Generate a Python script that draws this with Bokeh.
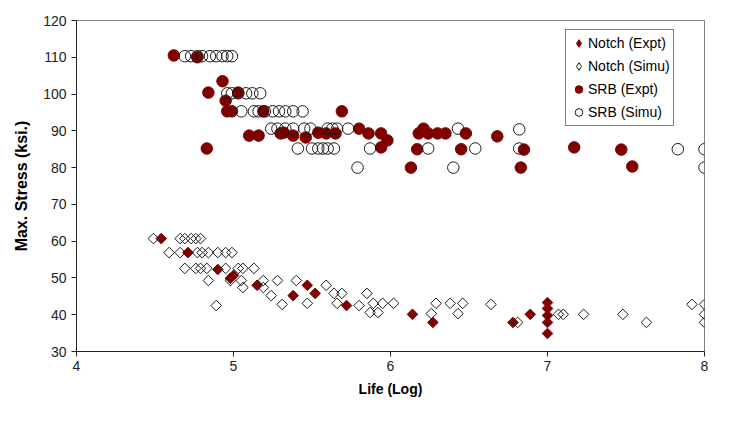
import math
from bokeh.plotting import figure
from bokeh.models import FixedTicker, Legend, LegendItem, Range1d
from bokeh.embed import file_html
from bokeh.resources import INLINE

# Notch specimens, experimental results: log10(life), max stress (ksi)
notch_expt_life = [4.54, 4.71, 4.90, 4.98, 5.00, 5.15, 5.38, 5.47, 5.52, 5.72,
                   6.14, 6.27, 6.78, 6.89, 7.00, 7.00, 7.00, 7.00, 7.00]
notch_expt_stress = [60.7, 56.9, 52.3, 49.9, 50.7, 48.0, 45.2, 48.0, 45.8, 42.5,
                     40.1, 37.9, 37.9, 40.1, 43.3, 41.7, 39.8, 37.9, 34.9]

# Notch specimens, simulated results
notch_simu_life = [4.49, 4.66, 4.69, 4.73, 4.76, 4.79,
                   4.59, 4.66, 4.77, 4.80, 4.84, 4.90, 4.95, 4.99,
                   4.69, 4.76, 4.79, 4.83, 4.95, 5.03, 5.06, 5.13,
                   4.84, 4.98, 5.05, 5.19, 5.28, 5.40,
                   5.06, 5.19, 5.59,
                   5.24, 5.64, 5.69, 5.85,
                   4.89, 5.31, 5.47, 5.66, 5.80, 5.89, 5.95, 6.02, 6.29, 6.38,
                   6.46, 6.64, 7.92, 8.00,
                   5.87, 5.92, 6.26, 6.43, 7.07, 7.10, 7.23, 7.48, 8.00,
                   6.81, 7.63, 8.00]
notch_simu_stress = [60.7, 60.7, 60.7, 60.7, 60.7, 60.7,
                     56.9, 56.9, 56.9, 56.9, 56.9, 56.9, 56.9, 56.9,
                     52.6, 52.6, 52.6, 52.6, 52.6, 52.6, 52.6, 52.6,
                     49.3, 49.3, 49.3, 49.3, 49.3, 49.3,
                     47.4, 47.4, 48.0,
                     45.2, 45.8, 45.8, 45.8,
                     42.5, 42.8, 43.1, 43.1, 42.5, 43.1, 43.1, 43.1, 43.1, 43.1,
                     43.1, 42.8, 42.8, 42.8,
                     40.6, 40.6, 40.3, 40.3, 40.1, 40.1, 40.1, 40.1, 40.1,
                     37.9, 37.9, 37.9]

# SRB specimens, experimental results
srb_expt_life = [4.62, 4.77, 4.84, 5.03, 4.93, 4.95, 4.96, 4.99, 5.19, 4.83,
                 5.10, 5.16, 5.30, 5.32, 5.38, 5.46, 5.54, 5.59, 5.65, 5.69,
                 5.80, 5.86, 5.94, 5.98, 5.94, 6.13, 6.17, 6.18, 6.21, 6.24,
                 6.30, 6.35, 6.48, 6.45, 6.68, 6.83, 6.85, 7.17, 7.47, 7.54]
srb_expt_stress = [110.5, 110.0, 100.4, 100.4, 103.5, 98.2, 95.3, 95.3, 95.3, 85.2,
                   88.7, 88.7, 89.3, 89.5, 88.7, 88.2, 89.5, 89.3, 89.3, 95.3,
                   90.6, 89.3, 89.3, 87.4, 85.5, 80.0, 85.0, 89.3, 90.6, 89.3,
                   89.3, 89.3, 89.3, 85.0, 88.5, 80.0, 84.9, 85.5, 84.9, 80.3]

# SRB specimens, simulated results
srb_simu_life = [4.69, 4.73, 4.77, 4.80, 4.85, 4.89, 4.93, 4.96, 4.99,
                 4.96, 4.99, 5.03, 5.08, 5.12, 5.17,
                 5.05, 5.13, 5.16, 5.20, 5.25, 5.29, 5.33, 5.38, 5.44,
                 5.24, 5.28, 5.33, 5.38, 5.45, 5.49, 5.60, 5.63, 5.66, 5.73, 6.43, 6.82,
                 5.41, 5.50, 5.54, 5.57, 5.60, 5.64, 5.87, 6.24, 6.54, 6.82, 7.83, 8.00,
                 5.79, 6.40, 8.00]
srb_simu_stress = [110.3, 110.3, 110.3, 110.3, 110.3, 110.3, 110.3, 110.3, 110.3,
                   100.2, 100.2, 100.2, 100.2, 100.2, 100.2,
                   95.3, 95.3, 95.3, 95.3, 95.3, 95.3, 95.3, 95.3, 95.3,
                   90.6, 90.6, 90.6, 90.6, 90.6, 90.6, 90.6, 90.6, 90.6, 90.6, 90.6, 90.4,
                   85.2, 85.2, 85.2, 85.2, 85.2, 85.2, 85.2, 85.2, 85.2, 85.2, 85.0, 85.0,
                   80.0, 80.0, 80.0]

x_ticks = [4, 5, 6, 7, 8]
y_ticks = [30, 40, 50, 60, 70, 80, 90, 100, 110, 120]

DARK_RED = "#7f0000"
OUTLINE = "#1a1a1a"
FONT = "Liberation Sans"

p = figure(width=730, height=421, output_backend="svg", toolbar_location=None,
           x_range=Range1d(4, 8), y_range=Range1d(30, 120),
           min_border_left=76, min_border_right=26, min_border_top=20,
           min_border_bottom=70)
p.background_fill_color = "white"
p.border_fill_color = "white"
p.outline_line_color = "#808080"
p.outline_line_width = 1
p.xgrid.visible = False
p.ygrid.visible = False

p.xaxis.ticker = FixedTicker(ticks=x_ticks)
p.yaxis.ticker = FixedTicker(ticks=y_ticks)
for ax in (p.xaxis, p.yaxis):
    ax.axis_line_color = "#222222"
    ax.major_tick_line_color = "#222222"
    ax.major_tick_out = 5
    ax.major_tick_in = 0
    ax.minor_tick_line_color = None
    ax.major_label_text_font = FONT
    ax.major_label_text_font_size = "14px"
    ax.major_label_text_color = "#222222"
    ax.axis_label_text_font = FONT
    ax.axis_label_text_font_style = "bold"
    ax.axis_label_text_color = "black"

p.xaxis.axis_label = "Life (Log)"
p.yaxis.axis_label = "Max. Stress (ksi.)"
p.xaxis.axis_label_text_font_size = "14px"
p.yaxis.axis_label_text_font_size = "16px"
p.xaxis.major_label_standoff = 4
p.yaxis.major_label_standoff = 5
p.xaxis.axis_label_standoff = 7
p.yaxis.axis_label_standoff = 10

rot = math.pi / 4  # squares turned 45 degrees give even-sided diamonds

p.scatter(notch_expt_life, notch_expt_stress, marker="square", angle=rot,
          size=7.5, fill_color=DARK_RED, line_color=DARK_RED)
p.scatter(notch_simu_life, notch_simu_stress, marker="square", angle=rot,
          size=7.5, fill_color=None, line_color=OUTLINE, line_width=1)
r_se = p.scatter(srb_expt_life, srb_expt_stress, marker="circle",
                 size=11.5, fill_color=DARK_RED, line_color=DARK_RED)
r_ss = p.scatter(srb_simu_life, srb_simu_stress, marker="circle",
                 size=11.5, fill_color=None, line_color=OUTLINE, line_width=1)

# hidden twins of the notch series that supply diamond swatches to the legend
# (legend glyphs are always drawn unrotated)
key_ne = p.scatter(notch_expt_life, notch_expt_stress, marker="diamond",
                   fill_color=DARK_RED, line_color=DARK_RED, visible=False)
key_ns = p.scatter(notch_simu_life, notch_simu_stress, marker="diamond",
                   fill_color=None, line_color=OUTLINE, visible=False)

# legend box anchored by its lower-left corner, in pixels from the frame's lower-left
legend = Legend(items=[
    LegendItem(label="Notch (Expt)", renderers=[key_ne]),
    LegendItem(label="Notch (Simu)", renderers=[key_ns]),
    LegendItem(label="SRB (Expt)", renderers=[r_se]),
    LegendItem(label="SRB (Simu)", renderers=[r_ss]),
], location=(489, 225))
legend.label_text_font = FONT
legend.label_text_font_size = "14px"
legend.label_text_color = "black"
legend.glyph_width = 19
legend.glyph_height = 20
legend.label_height = 20
legend.label_standoff = 0
legend.spacing = 3
legend.padding = 3
legend.margin = 0
legend.inactive_fill_alpha = 0
legend.border_line_color = "black"
legend.border_line_width = 1
legend.background_fill_color = "white"
legend.background_fill_alpha = 1
p.add_layout(legend, "center")

open("out.html", "w").write(file_html(p, INLINE))
